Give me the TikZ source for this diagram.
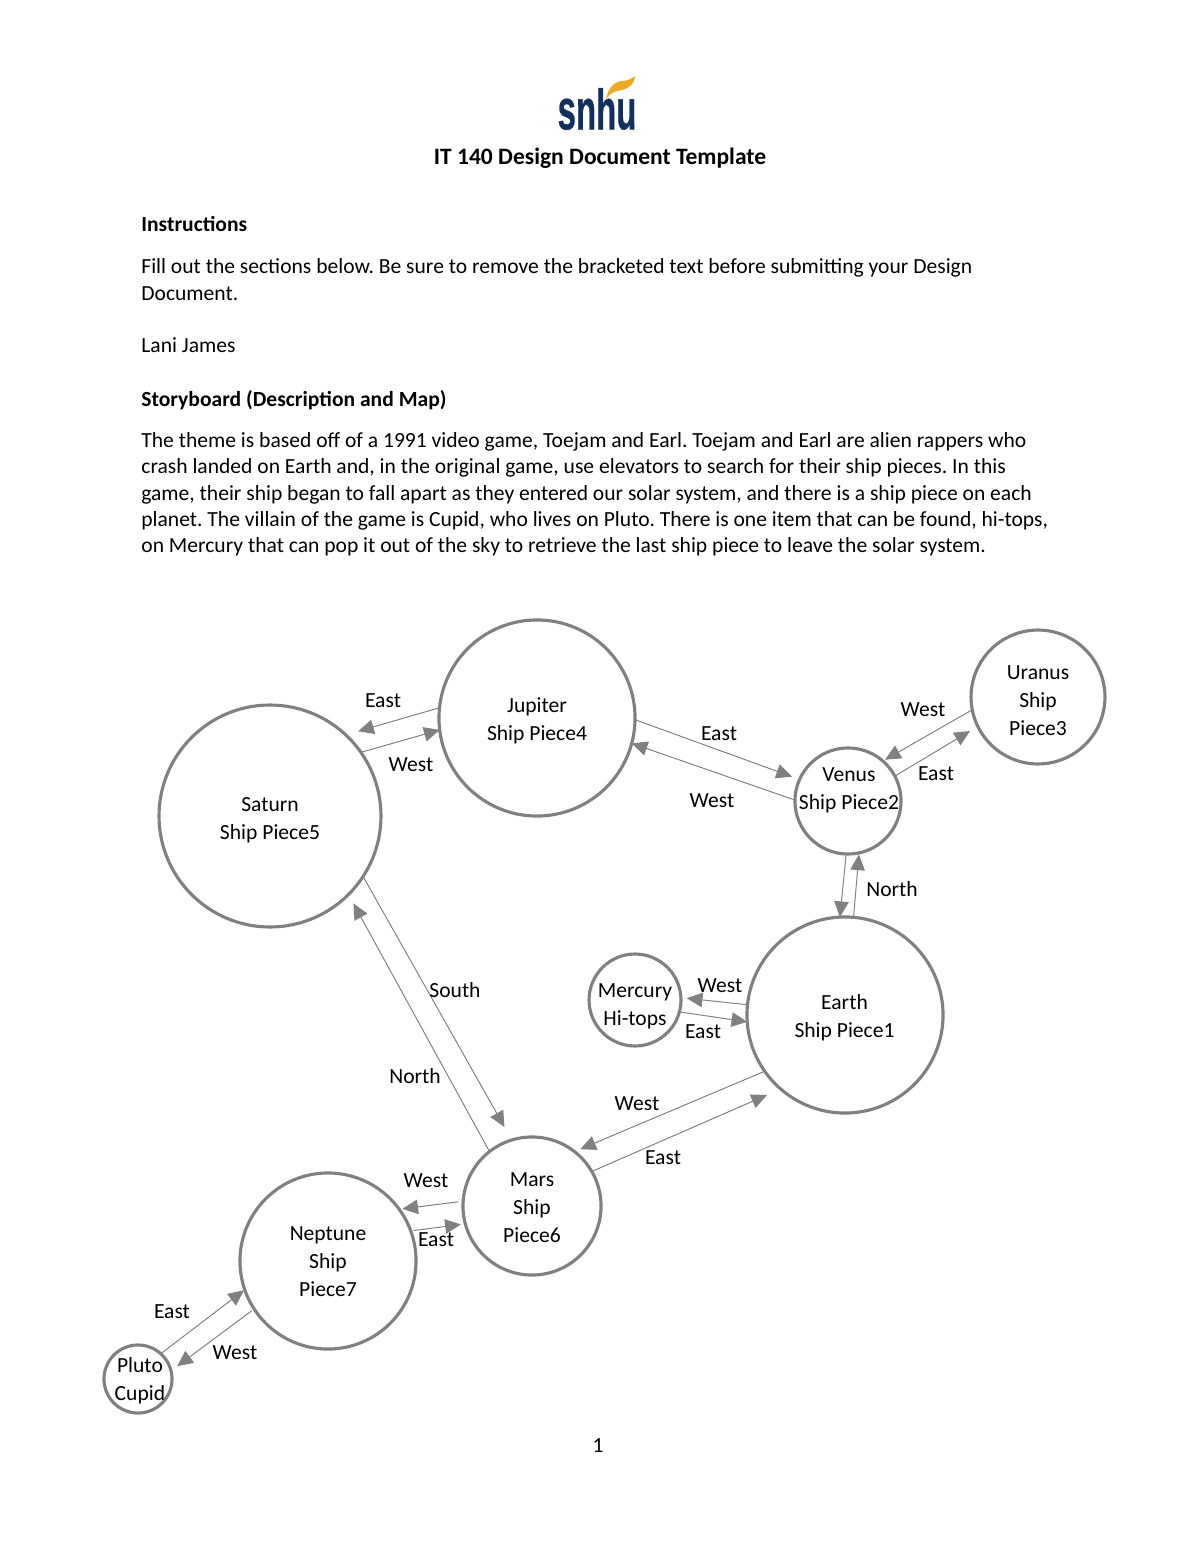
\documentclass[tikz,border=0pt]{standalone}
\usepackage{fontspec}
\usepackage{xcolor}
\usepackage{tikz}
\usetikzlibrary{arrows.meta}
\setmainfont{Carlito}
\frenchspacing
\newfontfamily\logofont{Liberation Sans}[BoldFeatures={FakeBold=0.8}]
\definecolor{rimgray}{HTML}{808080}
\definecolor{snhublue}{HTML}{12305F}
\definecolor{snhugold}{HTML}{E9A920}
\newcommand{\planettext}[3]{\makebox[0pt]{\hspace*{#2}\raisebox{\dimexpr#3-2.75bp}[0pt][0pt]{\begin{tabular}{@{}c@{}}#1\end{tabular}}}}
\tikzset{
    planet/.style={shape=circle,draw=rimgray,line width=1.6bp,inner sep=0pt,outer sep=0pt,font=\fontsize{11bp}{14.3bp}\selectfont},
    conn/.style={draw=rimgray,line width=0.5bp,-{Triangle[length=8bp,width=7.4bp,fill=rimgray]}},
    dir/.style={font=\fontsize{11bp}{14.3bp}\selectfont},
    para/.style={anchor=west,align=left,inner sep=0pt,font=\fontsize{11bp}{13.4bp}\selectfont}
}
\begin{document}
\begin{tikzpicture}[x=0.51bp,y=-0.51bp]
    \useasboundingbox (0,0) rectangle (1200,1553);
    \node[inner sep=0pt,text=snhublue,font=\logofont\bfseries\fontsize{29bp}{29bp}\selectfont] (logo) at (597,109) {\scalebox{0.58}[1]{snhu}};
    \fill[snhugold] (606,99) .. controls (608,90) and (612,83) .. (621,81) .. controls (627,81) and (632,79) .. (635,76) .. controls (635,83) and (630,88) .. (622,90) .. controls (615,91) and (610,93) .. (606,99) -- cycle;
    \node[font=\bfseries\fontsize{12bp}{14bp}\selectfont] (title) at (600,158) {IT 140 Design Document Template};
    \node[para] (instr) at (141,224) {\textbf{Instructions}};
    \node[para] (fill) at (141,279.5) {Fill out the sections below. Be sure to remove the bracketed text before submitting your Design\\Document.};
    \node[para] (name) at (141,345) {Lani James};
    \node[para] (story) at (141,400) {\textbf{Storyboard (Description and Map)}};
    \node[para] (theme) at (141,494.5) {The theme is based off of a 1991 video game, Toejam and Earl. Toejam and Earl are alien rappers who\\crash landed on Earth and, in the original game, use elevators to search for their ship pieces. In this\\game, their ship began to fall apart as they entered our solar system, and there is a ship piece on each\\planet. The villain of the game is Cupid, who lives on Pluto. There is one item that can be found, hi-tops,\\on Mercury that can pop it out of the sky to retrieve the last ship piece to leave the solar system.};
    \node[dir] (page) at (598,1446) {1};

    \node[planet,minimum size=113.2bp] (saturn) at (270,816) {\planettext{Saturn\\Ship Piece5}{0bp}{-2bp}};
    \node[planet,minimum size=100bp] (jupiter) at (537,718) {\planettext{Jupiter\\Ship Piece4}{0bp}{-1.5bp}};
    \node[planet,minimum size=54.1bp] (venus) at (848,801) {\planettext{Venus\\Ship Piece2}{1bp}{5.9bp}};
    \node[planet,minimum size=68.3bp] (uranus) at (1038,697) {\planettext{Uranus\\Ship\\Piece3}{0bp}{-2.5bp}};
    \node[planet,minimum size=100bp] (earth) at (845,1015) {\planettext{Earth\\Ship Piece1}{-0.5bp}{-1.5bp}};
    \node[planet,minimum size=46.9bp] (mercury) at (635,1000) {\planettext{Mercury\\Hi-tops}{0bp}{-2.8bp}};
    \node[planet,minimum size=70.4bp] (mars) at (532,1206) {\planettext{Mars\\Ship\\Piece6}{0bp}{-1.5bp}};
    \node[planet,minimum size=89.8bp] (neptune) at (328,1261) {\planettext{Neptune\\Ship\\Piece7}{0bp}{-1bp}};
    \node[planet,minimum size=34.7bp] (pluto) at (138,1379) {\planettext{Pluto\\Cupid}{2bp}{-0.8bp}};

    \path (jupiter.174) edge[conn,shorten >=6.6bp] (saturn.47);
    \path (saturn.35) edge[conn] (jupiter.187);
    \path (jupiter.359) edge[conn,shorten >=4.1bp] (venus.156);
    \path (venus.179) edge[conn] (jupiter.345);
    \path (uranus.191) edge[conn,shorten >=1.3bp] (venus.49);
    \path (venus.28) edge[conn,shorten >=4.6bp] (uranus.206);
    \path (venus.268) edge[conn] (earth.93);
    \path (earth.85) edge[conn,shorten >=0.8bp] (venus.282);
    \path (earth.174) edge[conn,shorten >=3bp] (mercury.3);
    \path (mercury.345) edge[conn] (earth.184);
    \path (earth.215) edge[conn,shorten >=3.2bp] (mars.52);
    \path (mars.30) edge[conn,shorten >=7.6bp] (earth.229);
    \path (saturn.327) edge[conn,shorten >=7.6bp] (mars.107);
    \path (mars.128) edge[conn,shorten >=5.2bp] (saturn.315);
    \path (mars.176) edge[conn,shorten <=2.5bp,shorten >=1.6bp] (neptune.36);
    \path (neptune.20) edge[conn,shorten <=1.5bp,shorten >=2.3bp] (mars.195);
    \path (neptune.213) edge[conn,shorten <=1.5bp,shorten >=3.9bp] (pluto.14);
    \path (pluto.48) edge[conn,shorten >=0.5bp] (neptune.199);

    \node[dir] (eastA) at (383,701) {East};
    \node[dir] (westA) at (411,765) {West};
    \node[dir] (eastB) at (719,734) {East};
    \node[dir] (westB) at (712,801) {West};
    \node[dir] (westC) at (923,710) {West};
    \node[dir] (eastC) at (936,774) {East};
    \node[dir] (northA) at (892,889) {North};
    \node[dir] (westD) at (720,986) {West};
    \node[dir] (eastD) at (703,1032) {East};
    \node[dir] (southA) at (455,990) {South};
    \node[dir] (northB) at (415,1076) {North};
    \node[dir] (westE) at (637,1104) {West};
    \node[dir] (eastE) at (663,1158) {East};
    \node[dir] (westF) at (426,1181) {West};
    \node[dir] (eastF) at (436,1240) {East};
    \node[dir] (eastG) at (172,1312) {East};
    \node[dir] (westG) at (235,1353) {West};
\end{tikzpicture}
\end{document}
